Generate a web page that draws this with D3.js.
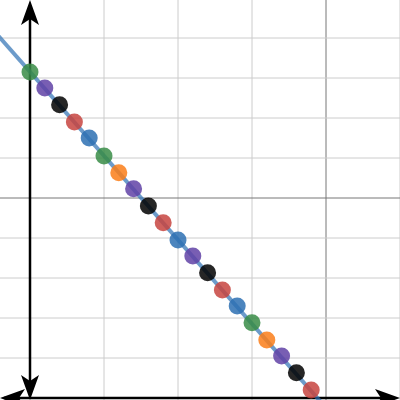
<!DOCTYPE html>
<html><head><meta charset="utf-8">
<script src="https://cdn.jsdelivr.net/npm/d3@7"></script>
<style>body{margin:0;background:#fff}svg{display:block}</style></head>
<body><svg id="c" width="400" height="400"></svg>
<script>
const pointX = [0,0.2,0.4,0.6,0.8,1.0,1.2,1.4,1.6,1.8,2.0,2.2,2.4,2.6,2.8,3.0,3.2,3.4,3.6,3.8];
const pointY = [8.15,7.75,7.33,6.9,6.5,6.05,5.63,5.23,4.8,4.38,3.95,3.55,3.13,2.7,2.3,1.88,1.45,1.05,0.63,0.2];
const pointColors = ["#388c46","#6042a6","#000000","#c74440","#2d70b3","#388c46","#fa7e19","#6042a6","#000000","#c74440","#2d70b3","#6042a6","#000000","#c74440","#2d70b3","#388c46","#fa7e19","#6042a6","#000000","#c74440"];
const lineX = [-0.45, 3.95];
const lineY = [9.1, -0.14];
const gridX = [1,2,3,4,5];
const gridY = [1,2,3,4,5,6,7,8,9,10];

const svg = d3.select("#c");
const x = d3.scaleLinear().domain([0,1]).range([30,104]);
const y = d3.scaleLinear().domain([0,1]).range([398,358]);

svg.selectAll(".gx").data(gridX).join("line")
  .attr("x1",d=>x(d)).attr("x2",d=>x(d)).attr("y1",0).attr("y2",400)
  .attr("stroke",d=>d===4?"#777":"#ccc").attr("stroke-width",1);
svg.selectAll(".gy").data(gridY).join("line")
  .attr("y1",d=>y(d)).attr("y2",d=>y(d)).attr("x1",0).attr("x2",400)
  .attr("stroke",d=>d===5?"#777":"#ccc").attr("stroke-width",1);

// axes
const ax = svg.append("g").attr("stroke","#000").attr("stroke-width",2.5);
ax.append("line").attr("x1",x(0)).attr("x2",x(0)).attr("y1",8).attr("y2",392);
ax.append("line").attr("x1",4).attr("x2",392).attr("y1",y(0)).attr("y2",y(0));
const arr = svg.append("g").attr("fill","#000");
const X0=x(0), Y0=y(0);
arr.append("path").attr("d",`M${X0},0 L${X0-9},25 L${X0},19 L${X0+9},25Z`);
arr.append("path").attr("d",`M${X0},400 L${X0-9},375 L${X0},381 L${X0+9},375Z`);
arr.append("path").attr("d",`M400,${Y0} L375,${Y0-9} L381,${Y0} L375,${Y0+9}Z`);
arr.append("path").attr("d",`M0,${Y0} L25,${Y0-9} L19,${Y0} L25,${Y0+9}Z`);

svg.append("path").datum(d3.zip(lineX,lineY))
  .attr("d",d3.line().x(d=>x(d[0])).y(d=>y(d[1])))
  .attr("stroke","#2d70b3").attr("stroke-opacity",0.7).attr("stroke-width",4).attr("fill","none");

svg.selectAll(".p").data(d3.range(pointX.length)).join("circle")
  .attr("cx",i=>x(pointX[i])).attr("cy",i=>y(pointY[i])).attr("r",8.5)
  .attr("fill",i=>pointColors[i]).attr("fill-opacity",0.85);
</script></body></html>
